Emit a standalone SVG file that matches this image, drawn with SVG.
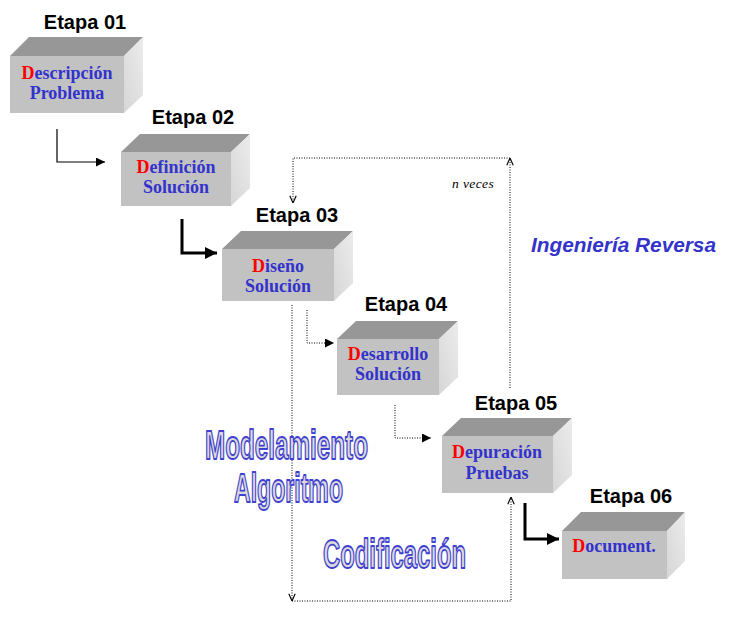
<svg xmlns="http://www.w3.org/2000/svg" width="734" height="622" viewBox="0 0 734 622">
<style>
.front{fill:#c2c2c2}
.top{fill:#979797}
.side{fill:url(#sideG)}
.etapa{font-family:"Liberation Sans",Arial,sans-serif;font-weight:bold;font-size:20px;fill:#000;text-anchor:middle}
.lbl{font-family:"Liberation Serif","Times New Roman",serif;font-weight:bold;font-size:18px;fill:#3333cc;text-anchor:middle}
.red{fill:#ff0000}
.big{font-family:"Liberation Sans",Arial,sans-serif;font-weight:bold;font-size:40px;fill:#dadada;stroke:#3f3fd0;stroke-width:1.8;stroke-linejoin:round}
.solid{fill:none;stroke:#000;stroke-width:1.2}
.thick{fill:none;stroke:#000;stroke-width:3}
.dot{fill:none;stroke:#000;stroke-width:1;stroke-dasharray:1 1.5}
</style>
<defs>
<linearGradient id="sideG" x1="0" y1="1" x2="1" y2="0">
<stop offset="0" stop-color="#d6d6d6"/>
<stop offset="1" stop-color="#ececec"/>
</linearGradient>
<marker id="tri" viewBox="0 0 10 10" refX="10" refY="5" markerWidth="9" markerHeight="9" markerUnits="userSpaceOnUse" orient="auto">
<path d="M0,0 L10,5 L0,10 Z" fill="#000"/>
</marker>
<marker id="triB" viewBox="0 0 10 10" refX="10" refY="5" markerWidth="12" markerHeight="12" markerUnits="userSpaceOnUse" orient="auto">
<path d="M0,0 L10,5 L0,10 Z" fill="#000"/>
</marker>
<marker id="chev" viewBox="0 0 10 10" refX="10" refY="5" markerWidth="8" markerHeight="8" markerUnits="userSpaceOnUse" orient="auto">
<path d="M1,1 L10,5 L1,9" fill="none" stroke="#000" stroke-width="1.4"/>
</marker>
</defs>
<rect width="734" height="622" fill="#fff"/>

<g id="connectors">
<path class="solid" d="M57,129 V162 H105" marker-end="url(#tri)"/>
<path class="thick" d="M182,219 V253 H217" marker-end="url(#triB)"/>
<path class="dot" d="M307,310 V343 H334" marker-end="url(#tri)"/>
<path class="dot" d="M395,405 V438 H431" marker-end="url(#tri)"/>
<path class="thick" d="M525,503 V539 H559" marker-end="url(#triB)"/>
<path class="dot" d="M510,388 V158" marker-end="url(#chev)"/>
<path class="dot" d="M510,158 H293 V203" marker-end="url(#chev)"/>
<path class="dot" d="M292,305 V601" marker-end="url(#chev)"/>
<path class="dot" d="M292,601 H511 V497" marker-end="url(#chev)"/>
</g>

<g id="node1">
<text class="etapa" x="85" y="29">Etapa 01</text>
<polygon class="top" points="10,56 29,37 143,37 124,56"/>
<polygon class="side" points="124,56 143,37 143,95 124,113"/>
<rect class="front" x="10" y="56" width="114" height="57"/>
<text class="lbl" x="67" y="79"><tspan class="red">D</tspan>escripción</text>
<text class="lbl" x="67" y="99">Problema</text>
</g>

<g id="node2">
<text class="etapa" x="193" y="124">Etapa 02</text>
<polygon class="top" points="121,152 140,134 250,134 231,152"/>
<polygon class="side" points="231,152 250,134 250,188 231,206"/>
<rect class="front" x="121" y="152" width="110" height="54"/>
<text class="lbl" x="176" y="173"><tspan class="red">D</tspan>efinición</text>
<text class="lbl" x="176" y="193">Solución</text>
</g>

<g id="node3">
<text class="etapa" x="297" y="222">Etapa 03</text>
<polygon class="top" points="222,249 241,231 353,231 334,249"/>
<polygon class="side" points="334,249 353,231 353,283 334,301"/>
<rect class="front" x="222" y="249" width="112" height="52"/>
<text class="lbl" x="278" y="272"><tspan class="red">D</tspan>iseño</text>
<text class="lbl" x="278" y="292">Solución</text>
</g>

<g id="node4">
<text class="etapa" x="406" y="311">Etapa 04</text>
<polygon class="top" points="337,339 356,321 458,321 439,339"/>
<polygon class="side" points="439,339 458,321 458,377 439,395"/>
<rect class="front" x="337" y="339" width="102" height="56"/>
<text class="lbl" x="388" y="360"><tspan class="red">D</tspan>esarrollo</text>
<text class="lbl" x="388" y="380">Solución</text>
</g>

<g id="node5">
<text class="etapa" x="516" y="410">Etapa 05</text>
<polygon class="top" points="442,436 461,418 572,418 553,436"/>
<polygon class="side" points="553,436 572,418 572,475 553,493"/>
<rect class="front" x="442" y="436" width="111" height="57"/>
<text class="lbl" x="497" y="458"><tspan class="red">D</tspan>epuración</text>
<text class="lbl" x="497" y="479">Pruebas</text>
</g>

<g id="node6">
<text class="etapa" x="631" y="503">Etapa 06</text>
<polygon class="top" points="562,531 581,512 685,512 667,531"/>
<polygon class="side" points="667,531 685,512 685,561 667,579"/>
<rect class="front" x="562" y="531" width="105" height="48"/>
<text class="lbl" x="614" y="552"><tspan class="red">D</tspan>ocument.</text>
</g>

<g id="labels">
<text x="452" y="188" font-family="Liberation Serif,'Times New Roman',serif" font-style="italic" font-size="13.5" letter-spacing="0.4" fill="#000">n veces</text>
<text x="531" y="252" font-family="Liberation Sans,Arial,sans-serif" font-style="italic" font-weight="bold" font-size="20" fill="#3333cc" textLength="185" lengthAdjust="spacingAndGlyphs">Ingeniería Reversa</text>
<text class="big" x="205" y="459" textLength="163" lengthAdjust="spacingAndGlyphs">Modelamiento</text>
<text class="big" x="234" y="502" textLength="109" lengthAdjust="spacingAndGlyphs">Algoritmo</text>
<text class="big" x="323" y="568" textLength="143" lengthAdjust="spacingAndGlyphs">Codificación</text>
</g>
</svg>
